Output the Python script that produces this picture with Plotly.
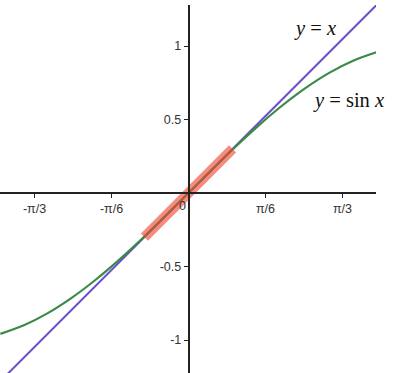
import plotly.graph_objects as go

# data
sin_x = [-1.28, -1.12, -0.96, -0.80, -0.64, -0.48, -0.32, -0.16, 0.0,
         0.16, 0.32, 0.48, 0.64, 0.80, 0.96, 1.12, 1.28]
sin_y = [-0.958, -0.900, -0.819, -0.717, -0.597, -0.462, -0.315, -0.159, 0.0,
         0.159, 0.315, 0.462, 0.597, 0.717, 0.819, 0.900, 0.958]
line_x = [-1.30, 1.28]
line_y = [-1.30, 1.28]
seg_x = [-0.30, 0.30]
seg_y = [-0.30, 0.30]
xtick_vals = [-1.0472, -0.5236, 0.5236, 1.0472]
xtick_text = ["-π/3", "-π/6", "π/6", "π/3"]
ytick_vals = [-1, -0.5, 0.5, 1]
ytick_text = ["-1", "-0.5", "0.5", "1"]

W, H = 400, 373
ox, oy, s = 188.5, 193.0, 147.0
xr_right = 376.0
y_top_px = 5.0

fig = go.Figure()
fig.add_trace(go.Scatter(x=line_x, y=line_y, mode="lines",
                         line=dict(color="#6a4fc8", width=2), hoverinfo="skip"))
fig.add_trace(go.Scatter(x=sin_x, y=sin_y, mode="lines", line_shape="spline",
                         line=dict(color="#3a8a48", width=2.2), hoverinfo="skip"))
fig.add_trace(go.Scatter(x=seg_x, y=seg_y, mode="lines",
                         line=dict(color="rgba(238,70,50,0.62)", width=10), hoverinfo="skip"))

font_ticks = dict(family="Liberation Sans, Arial, sans-serif", size=12.5, color="#333")

fig.update_layout(
    width=W, height=H,
    margin=dict(l=0, r=0, t=0, b=0),
    paper_bgcolor="white", plot_bgcolor="white",
    showlegend=False,
    xaxis=dict(
        domain=[0, xr_right / W],
        range=[-ox / s, (xr_right - ox) / s],
        showgrid=False, zeroline=False,
        showline=True, linecolor="#222", linewidth=1.5,
        anchor="free", position=1 - oy / H,
        ticks="outside", ticklen=4, tickwidth=1.2, tickcolor="#222",
        tickvals=xtick_vals, ticktext=xtick_text, tickfont=font_ticks,
        fixedrange=True,
    ),
    yaxis=dict(
        domain=[0, 1 - y_top_px / H],
        range=[-(H - oy) / s, (oy - y_top_px) / s],
        showgrid=False, zeroline=False,
        showline=True, linecolor="#222", linewidth=1.5,
        anchor="free", position=ox / W,
        ticks="outside", ticklen=4, tickwidth=1.2, tickcolor="#222",
        tickvals=ytick_vals, ticktext=ytick_text, tickfont=font_ticks,
        fixedrange=True,
    ),
)

serif = "Liberation Serif, DejaVu Serif, serif"
fig.add_annotation(x=-0.04, y=-0.03, xref="x", yref="y", text="0",
                   showarrow=False, font=font_ticks, xanchor="center", yanchor="top")
fig.add_annotation(x=(315 - ox) / s, y=(oy - 28) / s, xref="x", yref="y",
                   text="<i>y</i> = <i>x</i>", showarrow=False,
                   font=dict(family=serif, size=20.5, color="#111"))
fig.add_annotation(x=(348 - ox) / s, y=(oy - 100) / s, xref="x", yref="y",
                   text="<i>y</i> = sin <i>x</i>", showarrow=False,
                   font=dict(family=serif, size=20.5, color="#111"))

fig.write_html("out.html", config={"displayModeBar": False},
               post_script="document.body.style.margin='0';document.body.style.padding='0';")
